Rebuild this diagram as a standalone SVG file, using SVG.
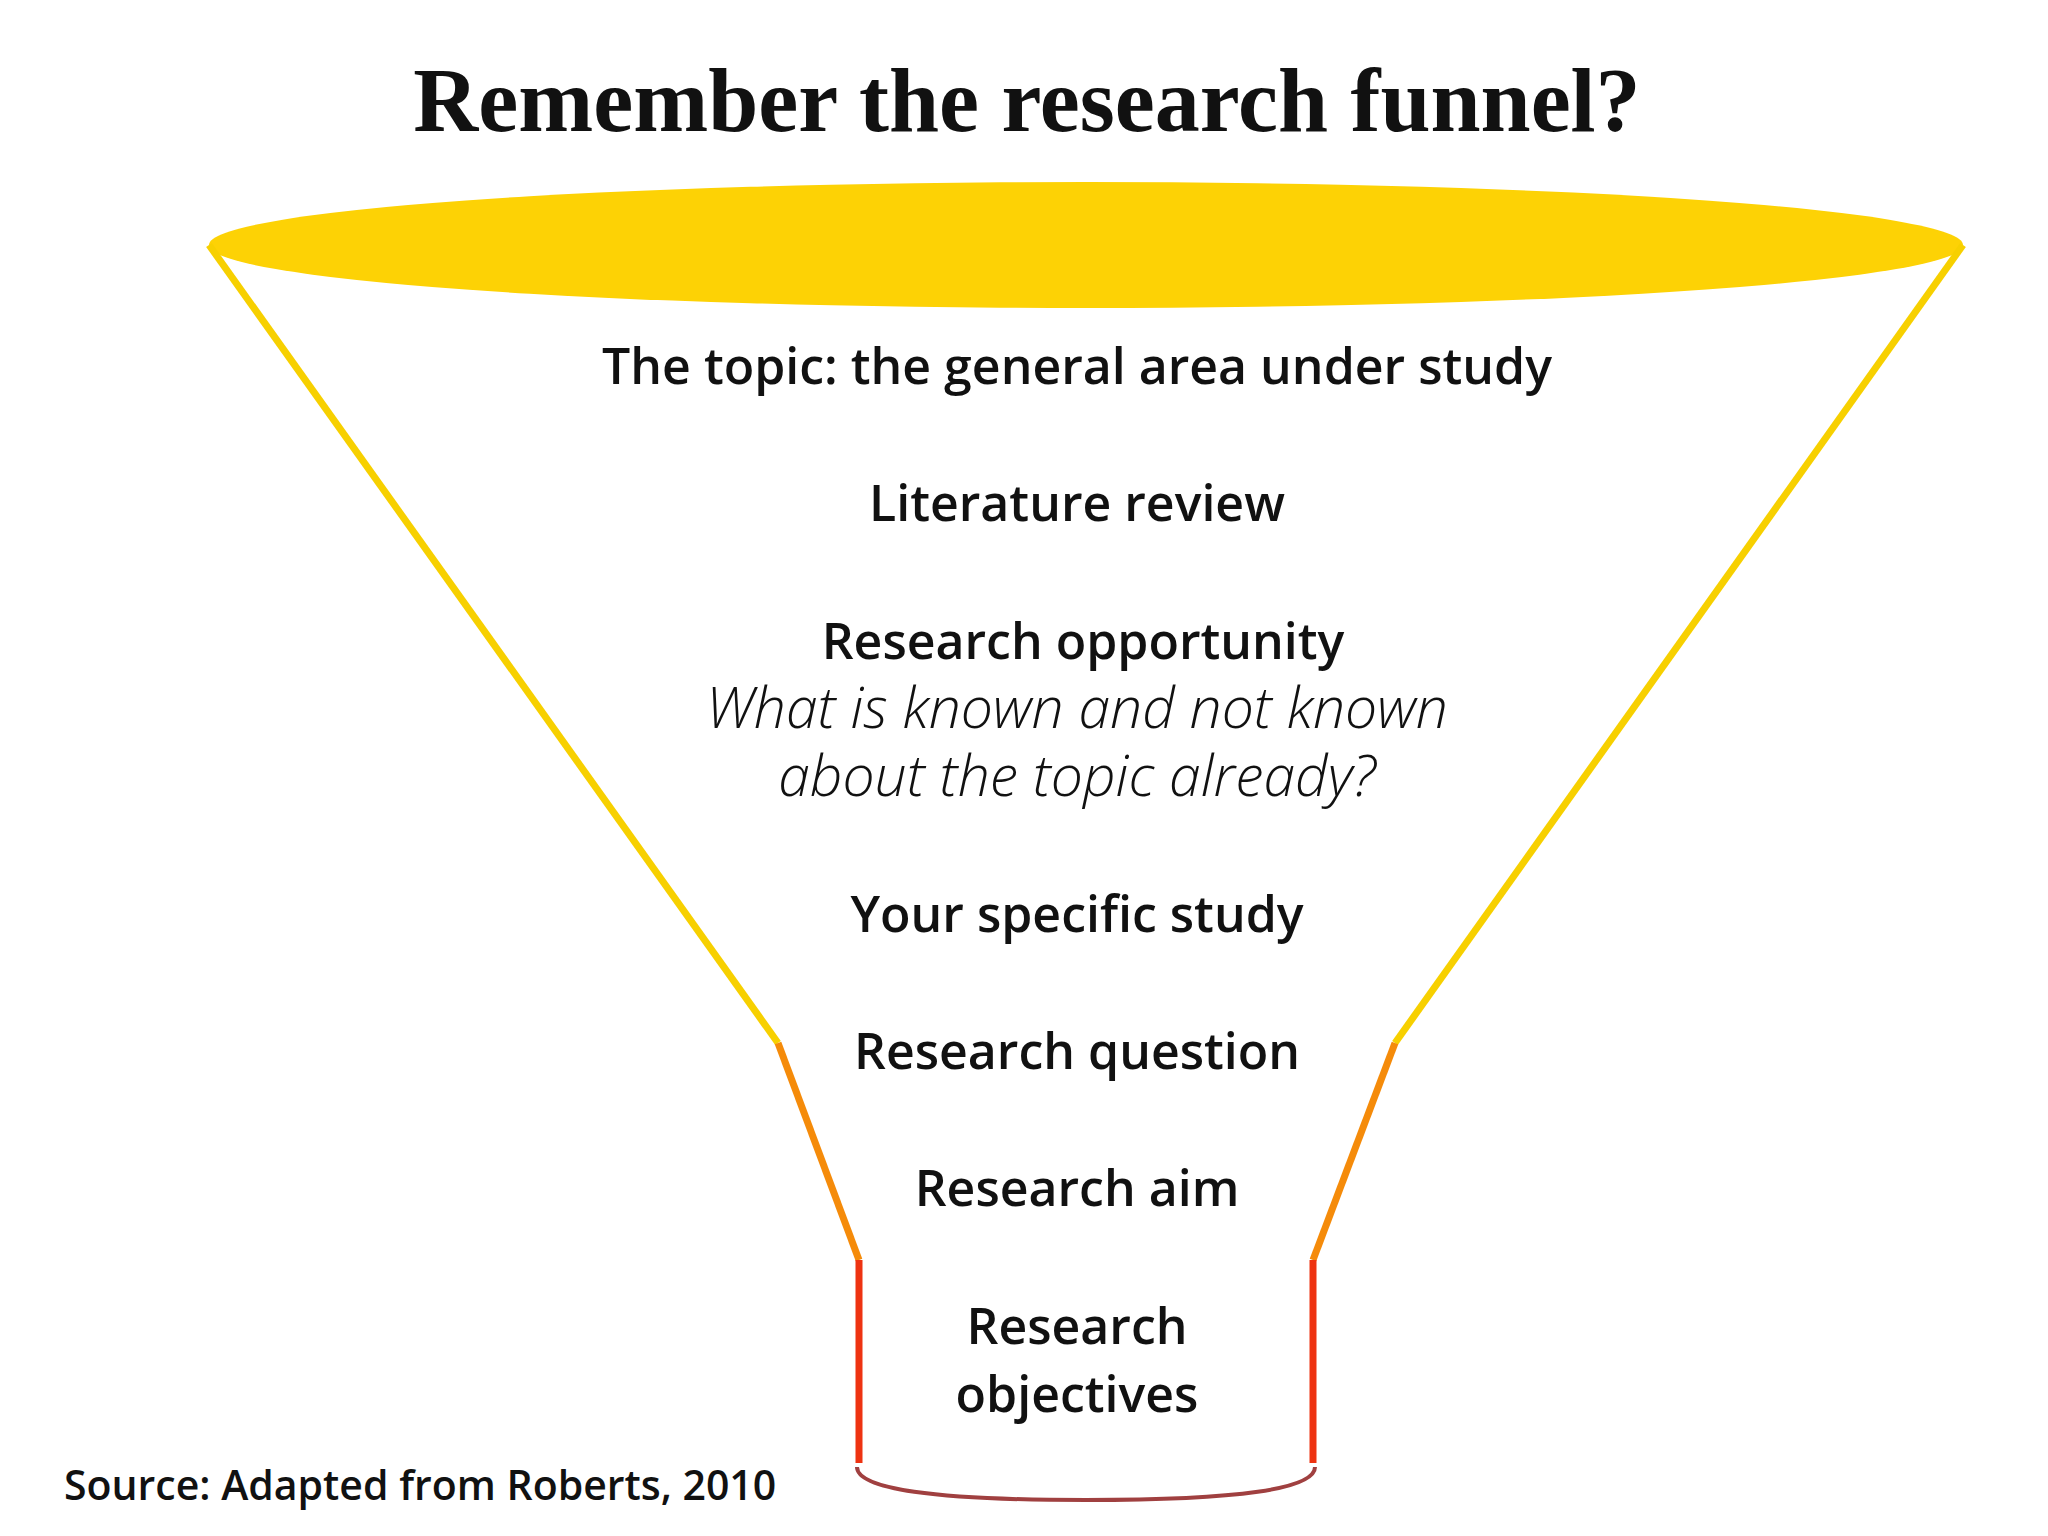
<svg xmlns="http://www.w3.org/2000/svg" width="2048" height="1536" viewBox="0 0 2048 1536">
<style>
.t{font-family:"Open Sans","Noto Sans",sans-serif;font-weight:600;font-size:50px;fill:#111;text-anchor:middle}
.i{font-family:"Open Sans","Noto Sans",sans-serif;font-style:italic;font-weight:300;font-size:57px;fill:#111;text-anchor:middle}
.y{stroke:#f7d000;stroke-width:7;fill:none}
.o{stroke:#f58b0a;stroke-width:7;fill:none}
.r{stroke:#ee3311;stroke-width:7;fill:none}
</style>
<rect width="2048" height="1536" fill="#fff"/>
<text x="1027" y="131" font-family="Liberation Serif,serif" font-weight="bold" font-size="90" text-anchor="middle" fill="#111">Remember the research funnel?</text>
<g id="funnel">
<ellipse cx="1086" cy="245" rx="877" ry="63" fill="#fdd205"/>
<g id="connectors">
<path class="y" d="M209 245 L778 1043"/>
<path class="o" d="M778 1043 L859 1260"/>
<path class="r" d="M859 1260 L859 1463"/>
<path class="y" d="M1963 245 L1395 1043"/>
<path class="o" d="M1395 1043 L1313 1260"/>
<path class="r" d="M1313 1260 L1313 1463"/>
<path d="M857 1467 Q857 1500 1086 1500 Q1315 1500 1315 1467" stroke="#a04040" stroke-width="4" fill="none"/>
</g>
</g>
<g id="labels">
<text class="t" x="1077" y="384">The topic: the general area under study</text>
<text class="t" x="1077" y="521">Literature review</text>
<text class="t" x="1083" y="659">Research opportunity</text>
<text class="i" x="1077" y="728">What is known and not known</text>
<text class="i" x="1077" y="796">about the topic already?</text>
<text class="t" x="1077" y="932">Your specific study</text>
<text class="t" x="1077" y="1069">Research question</text>
<text class="t" x="1077" y="1206">Research aim</text>
<text class="t" x="1077" y="1344">Research</text>
<text class="t" x="1077" y="1412">objectives</text>
</g>
<text x="64" y="1500" font-family="Open Sans,sans-serif" font-weight="600" font-size="41" fill="#111">Source: Adapted from Roberts, 2010</text>
</svg>
